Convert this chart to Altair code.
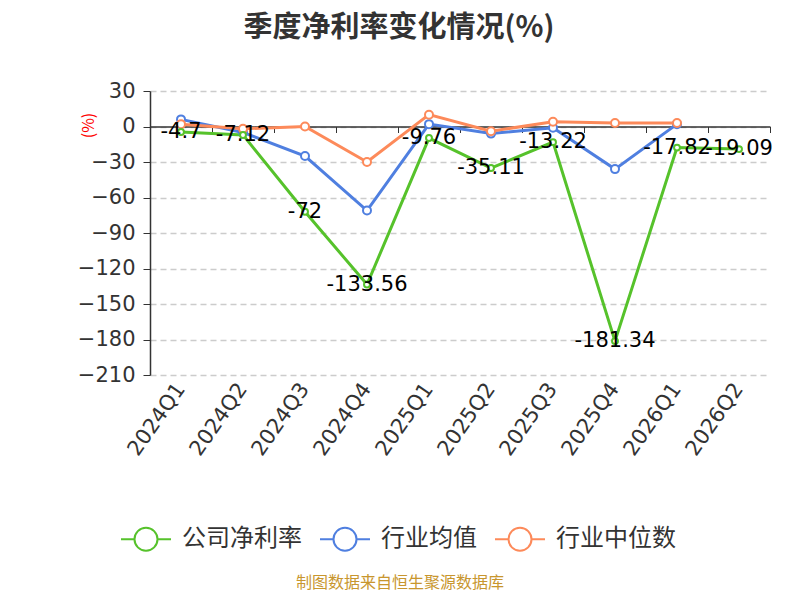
import altair as alt
import pandas as pd

quarters = ["2024Q1", "2024Q2", "2024Q3", "2024Q4", "2025Q1",
            "2025Q2", "2025Q3", "2025Q4", "2026Q1", "2026Q2"]
company = [-4.7, -7.12, -72, -133.56, -9.76, -35.11, -13.22, -181.34, -17.82, -19.09]
company_labels = ["-4.7", "-7.12", "-72", "-133.56", "-9.76",
                  "-35.11", "-13.22", "-181.34", "-17.82", "-19.09"]
ind_mean = [6, -5, -25, -71, 2, -6, -1, -36, 2, None]
ind_median = [2, -2, 0, -30, 10, -4, 4, 3, 3, None]

series_names = ["公司净利率", "行业均值", "行业中位数"]
series_colors = ["#56c22b", "#4f7fe0", "#fd8a5a"]
footer_text = ["制图数据来自恒生聚源数据库"]
y_ticks = [30, 0, -30, -60, -90, -120, -150, -180, -210]

rows = []
for name, vals in zip(series_names, [company, ind_mean, ind_median]):
    for i, (q, v) in enumerate(zip(quarters, vals)):
        if v is None:
            continue
        rows.append({"series": name, "quarter": q, "value": v,
                     "label": company_labels[i] if name == series_names[0] else ""})
df = pd.DataFrame(rows)

CJK = "Noto Sans CJK SC"
NUM = "DejaVu Sans"
W, H = 620, 284

xscale = alt.Scale(type="band", domain=quarters, paddingInner=0, paddingOuter=0)
yscale = alt.Scale(domain=[-210, 30], nice=False, zero=False)
cscale = alt.Scale(domain=series_names, range=series_colors)

yaxis = alt.Axis(values=y_ticks, title="(%)", titleColor="red", titleFont=CJK,
                 titleFontSize=16, titleFontWeight="normal", titleX=-62, titleY=34,
                 titleAlign="center", titleBaseline="middle",
                 labelFont=NUM, labelFontSize=21, labelColor="#333333", labelPadding=8,
                 labelOverlap=False,
                 domainColor="#333333", domainWidth=1.5, tickColor="#333333", tickSize=7,
                 grid=True, gridDash=[6, 4], gridColor="#cccccc", gridWidth=1.5)

axis_zero = alt.Axis(orient="bottom", offset=-7 * H / 8, labels=False, title=None,
                     tickBand="extent", domainColor="#333333", domainWidth=1.5,
                     tickColor="#333333", tickSize=6, grid=False)
axis_labels = alt.Axis(orient="bottom", title=None, domain=False, ticks=False,
                       labelAngle=-55, labelAlign="right", labelBaseline="middle",
                       labelFont=NUM, labelFontSize=21, labelColor="#333333",
                       labelPadding=10, labelOverlap=False, grid=False)

legend_symbol = ("M-1,0L-0.46,0M0.46,0L1,0M0.46,0A0.46,0.46,0,1,1,-0.46,0"
                 "A0.46,0.46,0,1,1,0.46,0")

base = alt.Chart(df)

lines = base.mark_line(strokeWidth=3).encode(
    x=alt.X("quarter:N", scale=xscale, sort=quarters, axis=axis_zero),
    y=alt.Y("value:Q", scale=yscale, axis=yaxis),
    color=alt.Color("series:N", scale=cscale, sort=series_names,
                    legend=alt.Legend(title=None, orient="none", direction="horizontal",
                                      legendX=-30, legendY=422,
                                      symbolType=legend_symbol, symbolSize=2500,
                                      symbolStrokeWidth=2, labelFontSize=24,
                                      labelColor="#333333", labelOffset=10,
                                      columnPadding=14, labelFont=CJK)),
)

pts_other = base.transform_filter(alt.datum.series != series_names[0]).mark_point(
    shape="circle", filled=True, fill="white", strokeWidth=2, size=64, opacity=1
).encode(
    x=alt.X("quarter:N", scale=xscale, sort=quarters, axis=None),
    y=alt.Y("value:Q", scale=yscale, axis=yaxis),
    stroke=alt.Color("series:N", scale=cscale, legend=None),
)

pts_green = base.transform_filter(alt.datum.series == series_names[0]).mark_point(
    shape="circle", filled=True, fill="white", strokeWidth=2, size=35, opacity=1
).encode(
    x=alt.X("quarter:N", scale=xscale, sort=quarters, axis=None),
    y=alt.Y("value:Q", scale=yscale, axis=yaxis),
    stroke=alt.Color("series:N", scale=cscale, legend=None),
)

labels = base.transform_filter(alt.datum.series == series_names[0]).mark_text(
    fontSize=21, color="black", align="center", baseline="middle", font=NUM
).encode(
    x=alt.X("quarter:N", scale=xscale, sort=quarters, axis=axis_labels),
    y=alt.Y("value:Q", scale=yscale, axis=yaxis),
    text="label:N",
)

footer = alt.Chart(pd.DataFrame({"t": footer_text})).mark_text(
    fontSize=16, color="#c8962e", align="center", baseline="middle", font=CJK
).encode(x=alt.value(250), y=alt.value(492), text="t:N")

chart = alt.layer(lines, pts_other, pts_green, labels, footer).resolve_axis(
    x="independent"
).properties(
    width=W, height=H,
    title=alt.TitleParams("季度净利率变化情况(%)", fontSize=29, fontWeight="bold",
                          color="#333333", anchor="middle", frame="group", dx=-61,
                          offset=37, font=CJK),
    autosize=alt.AutoSizeParams(type="none"),
    padding={"left": 142, "top": 83, "right": 22, "bottom": 217},
).configure_view(stroke=None)

chart.save("out.html", embed_options={"renderer": "svg", "actions": False})
